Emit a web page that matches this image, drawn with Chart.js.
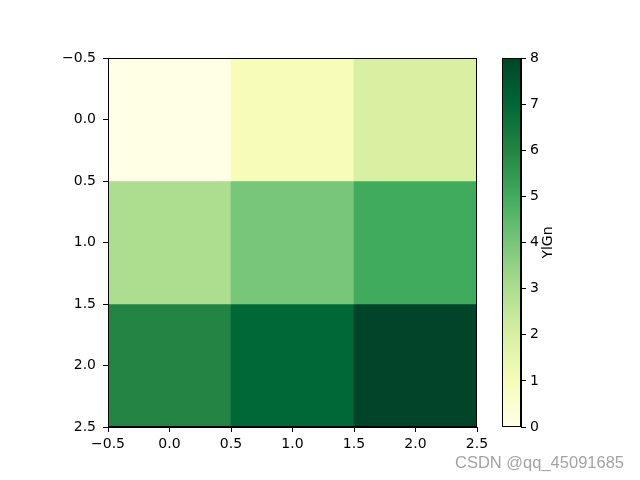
<!DOCTYPE html>
<html>
<head>
<meta charset="utf-8">
<script src="https://cdn.jsdelivr.net/npm/chart.js@4/dist/chart.umd.min.js"></script>
<style>
  body { margin: 0; background: #fff; }
  #wrap { position: relative; width: 640px; height: 480px; }
  canvas { position: absolute; left: 0; top: 0; }
  #mark { position: absolute; left: 455px; top: 453px; font-family: "Liberation Sans", sans-serif;
          font-size: 16.5px; color: #a3a3a3; white-space: nowrap; }
</style>
</head>
<body>
<div id="wrap">
  <canvas id="heat" width="640" height="480"></canvas>
  <canvas id="cbar" width="640" height="480"></canvas>
  <div id="mark">CSDN @qq_45091685</div>
</div>
<script>
// 3x3 image, row by row
const rows = [0, 1, 2];
const cols = [0, 1, 2];
const values = [
  [0, 1, 2],
  [3, 4, 5],
  [6, 7, 8]
];
const axisTicks = [-0.5, 0, 0.5, 1, 1.5, 2, 2.5];
const cbMin = 0;
const cbMax = 8;
const cbLabel = "YlGn";

// matplotlib YlGn stops
const ylgn = ["#ffffe5", "#f7fcb9", "#d9f0a3", "#addd8e", "#78c679",
              "#41ab5d", "#238443", "#006837", "#004529"];

function hexToRgb(h) {
  return [parseInt(h.slice(1, 3), 16), parseInt(h.slice(3, 5), 16), parseInt(h.slice(5, 7), 16)];
}

function colorFor(v) {
  let t = (v - cbMin) / (cbMax - cbMin) * (ylgn.length - 1);
  t = Math.max(0, Math.min(ylgn.length - 1, t));
  const i = Math.min(Math.floor(t), ylgn.length - 2);
  const f = t - i;
  const a = hexToRgb(ylgn[i]), b = hexToRgb(ylgn[i + 1]);
  const c = a.map((x, k) => Math.round(x + (b[k] - x) * f));
  return "rgb(" + c.join(",") + ")";
}

const font = { family: "DejaVu Sans", size: 14 };
const fmt = v => Number(v).toFixed(1).replace("-", "\u2212");

const frame = {
  id: "frame",
  afterDraw(chart) {
    const a = chart.chartArea;
    const ctx = chart.ctx;
    ctx.save();
    ctx.strokeStyle = "#000";
    ctx.lineWidth = 1;
    ctx.strokeRect(Math.round(a.left) + 0.5, Math.round(a.top) + 0.5,
      Math.round(a.right - a.left) - 1, Math.round(a.bottom - a.top) - 1);
    ctx.restore();
  }
};

function axisOpts(extra) {
  return Object.assign({
    type: "linear",
    offset: false,
    min: axisTicks[0],
    max: axisTicks[axisTicks.length - 1],
    afterBuildTicks: s => { s.ticks = axisTicks.map(v => ({ value: v })); },
    ticks: { callback: fmt, font: font, color: "#000", padding: 7, autoSkip: false, maxRotation: 0 },
    grid: { display: true, drawOnChartArea: false, drawTicks: true, tickLength: 5, color: "#000", lineWidth: 1, offset: false },
    border: { display: true, color: "#000", width: 1 }
  }, extra);
}

new Chart(document.getElementById("heat"), {
  type: "bar",
  data: {
    datasets: rows.map(r => ({
      data: cols.map(c => ({ x: c, y: [r - 0.5, r + 0.5] })),
      backgroundColor: values[r].map(colorFor),
      borderWidth: 0,
      borderSkipped: false,
      barThickness: "flex",
      barPercentage: 1,
      categoryPercentage: 1
    }))
  },
  options: {
    responsive: false,
    animation: false,
    events: [],
    layout: { padding: { left: 0, top: 58, right: 163, bottom: 0 } },
    plugins: { legend: { display: false }, tooltip: { enabled: false } },
    scales: {
      x: axisOpts({ stacked: true, ticks: { callback: fmt, font: font, color: "#000", padding: 4, autoSkip: false, maxRotation: 0 },
                    afterFit: s => { s.height = 53; } }),
      y: axisOpts({ reverse: true, stacked: false, afterFit: s => { s.width = 108; } })
    }
  },
  plugins: [frame]
});

const cbTitle = {
  id: "cbTitle",
  afterDraw(chart) {
    const a = chart.chartArea;
    const ctx = chart.ctx;
    ctx.save();
    ctx.translate(a.right + 27, (a.top + a.bottom) / 2);
    ctx.rotate(-Math.PI / 2);
    ctx.font = "14px 'DejaVu Sans'";
    ctx.fillStyle = "#000";
    ctx.textAlign = "center";
    ctx.textBaseline = "middle";
    ctx.fillText(cbLabel, 0, 0);
    ctx.restore();
  }
};

new Chart(document.getElementById("cbar"), {
  type: "bar",
  data: {
    datasets: [{
      data: [{ x: 0, y: [cbMin, cbMax] }],
      backgroundColor: ctx => {
        const chart = ctx.chart;
        if (!chart.chartArea) return null;
        const y = chart.scales.y;
        const g = chart.ctx.createLinearGradient(0, y.getPixelForValue(cbMin), 0, y.getPixelForValue(cbMax));
        ylgn.forEach((c, i) => g.addColorStop(i / (ylgn.length - 1), c));
        return g;
      },
      borderWidth: 0,
      borderSkipped: false,
      barThickness: "flex",
      barPercentage: 1,
      categoryPercentage: 1
    }]
  },
  options: {
    responsive: false,
    animation: false,
    events: [],
    layout: { padding: { left: 502, top: 58, right: 0, bottom: 53 } },
    plugins: { legend: { display: false }, tooltip: { enabled: false } },
    scales: {
      x: { type: "linear", min: -0.5, max: 0.5, offset: false, display: false },
      y: {
        type: "linear",
        position: "right",
        min: cbMin,
        max: cbMax,
        afterFit: s => { s.width = 119; },
        ticks: { stepSize: 1, font: font, color: "#000", padding: 4 },
        grid: { display: true, drawOnChartArea: false, drawTicks: true, tickLength: 5, color: "#000", lineWidth: 1 },
        border: { display: true, color: "#000", width: 1 }
      }
    }
  },
  plugins: [frame, cbTitle]
});
</script>
</body>
</html>
